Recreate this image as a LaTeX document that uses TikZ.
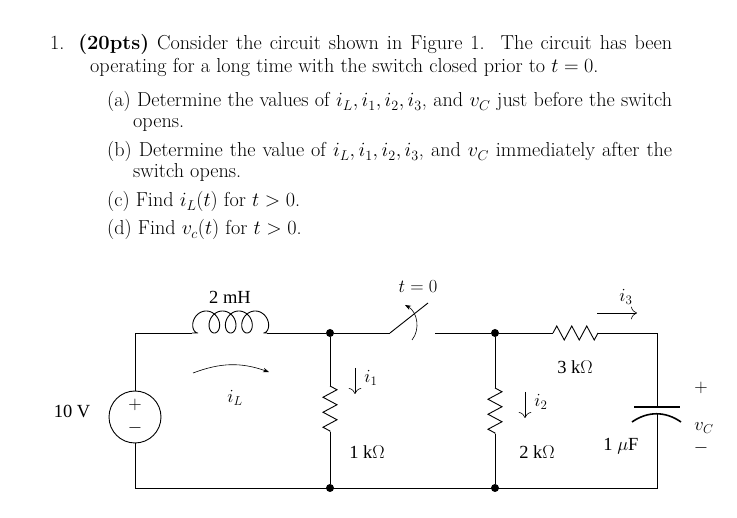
\RequirePackage{fix-cm}
\documentclass[tikz,border=0pt]{standalone}
\usepackage{fontspec}
\newfontfamily\lab{Liberation Serif}
\usetikzlibrary{decorations.pathmorphing,arrows.meta}
\begin{document}
\begin{tikzpicture}[x=1pt,y=-1pt,
  txt/.style={anchor=base west,inner sep=0pt,font=\fontsize{20.2}{24}\selectfont},
  lbl/.style={inner sep=0pt,font=\lab\fontsize{18.5}{22}\selectfont},
  wire/.style={line width=0.9pt},
  dot/.style={circle,fill,inner sep=0pt,minimum size=8pt},
  zz/.style={wire,decorate,decoration={zigzag,segment length=15pt,amplitude=7pt}},
  cur/.style={-{To[length=6pt]},line width=0.6pt}]
\useasboundingbox (0,0) rectangle (737,518);
\node[txt] (l1) at (50,50) {\makebox[622pt][s]{1. \textbf{(20pts)} Consider the circuit shown in Figure 1.\ \ The circuit has been}};
\node[txt] (l2) at (90,73) {operating for a long time with the switch closed prior to $t=0$.};
\node[txt] (l3) at (107,107) {\makebox[565pt][s]{(a) Determine the values of $i_L, i_1, i_2, i_3$, and $v_C$ just before the switch}};
\node[txt] (l4) at (133,128) {opens.};
\node[txt] (l5) at (107,157) {\makebox[565pt][s]{(b) Determine the value of $i_L, i_1, i_2, i_3$, and $v_C$ immediately after the}};
\node[txt] (l6) at (133,178) {switch opens.};
\node[txt] (l7) at (107,207) {(c) Find $i_L(t)$ for $t>0$.};
\node[txt] (l8) at (107,235) {(d) Find $v_c(t)$ for $t>0$.};
% coordinates
\coordinate (TL) at (135,333); \coordinate (BL) at (135,488);
\coordinate (La) at (192,333); \coordinate (Lb) at (267,333);
\node[dot] (n1) at (330,333) {}; \node[dot] (n1b) at (330,488) {};
\coordinate (R1a) at (330,386); \coordinate (R1b) at (330,432);
\coordinate (S1) at (390,333); \coordinate (S2) at (435,333);
\node[dot] (n2) at (495,333) {}; \node[dot] (n2b) at (495,488) {};
\coordinate (R2a) at (495,388); \coordinate (R2b) at (495,434);
\coordinate (R3a) at (553,333); \coordinate (R3b) at (598,333);
\coordinate (TR) at (657,333); \coordinate (BR) at (657,488);
\coordinate (C1) at (657,407); \coordinate (C2) at (657,414);
\node[circle,draw,wire,minimum size=52pt,inner sep=0pt] (V) at (135,417) {};
\node[lbl] at (135,405) {$+$}; \node[lbl] at (135,428) {$-$};
% wires
\draw[wire] (V.north) -- (TL) -- (La);
\draw[wire] (V.south) -- (BL) -- (BR) -- (C2);
\draw[wire] (C1) -- (TR) -- (R3b);
\draw[wire] (Lb) -- (n1) -- (S1);
\draw[wire] (S2) -- (n2) -- (R3a);
\draw[wire] (n1) -- (R1a); \draw[zz] (R1a) -- (R1b); \draw[wire] (R1b) -- (n1b);
\draw[wire] (n2) -- (R2a); \draw[zz] (R2a) -- (R2b); \draw[wire] (R2b) -- (n2b);
\draw[zz] (R3a) -- (R3b);
% inductor
\draw[wire] (La) -- ++(6,0) plot[domain=0:8*pi,samples=240,variable=\t]
  ({198+2.6*\t-9*sin(\t r)},{333-11*(1-cos(\t r))}) -- (Lb);
% switch
\coordinate (Sb) at (428,303);
\draw[wire] (S1) -- (Sb);
\draw[-{Stealth[length=6pt]},line width=0.6pt] (412,340) to[bend right=50] (405,305);
% capacitor
\draw[line width=1.6pt] (634,407) -- (680,407);
\draw[line width=1.6pt] (632,422) to[bend left=35] (681,422);
% labels
\node[lbl] (t0) at (418,287) {$t=0$};
\node[lbl] at (230,297) {2 mH};
\node[lbl] at (72,411) {10 V};
\draw[cur,-{Stealth[length=6pt]}] (193,373) to[bend left=20] (269,372);
\node[lbl] at (235,398) {$i_L$};
\draw[cur] (355,368) -- (355,394); \node[lbl] at (371,378) {$i_1$};
\draw[cur] (525,392) -- (525,418); \node[lbl] at (541,402) {$i_2$};
\draw[cur] (597,313) -- (637,313); \node[lbl] at (626,297) {$i_3$};
\node[lbl] at (367,452) {1 k$\Omega$};
\node[lbl] at (537,452) {2 k$\Omega$};
\node[lbl] at (575,367) {3 k$\Omega$};
\node[lbl] at (621,446) {1 $\mu$F};
\node[lbl] at (701,388) {$+$};
\node[lbl] at (704,428) {$v_C$};
\node[lbl] at (701,448) {$-$};
\end{tikzpicture}
\end{document}
